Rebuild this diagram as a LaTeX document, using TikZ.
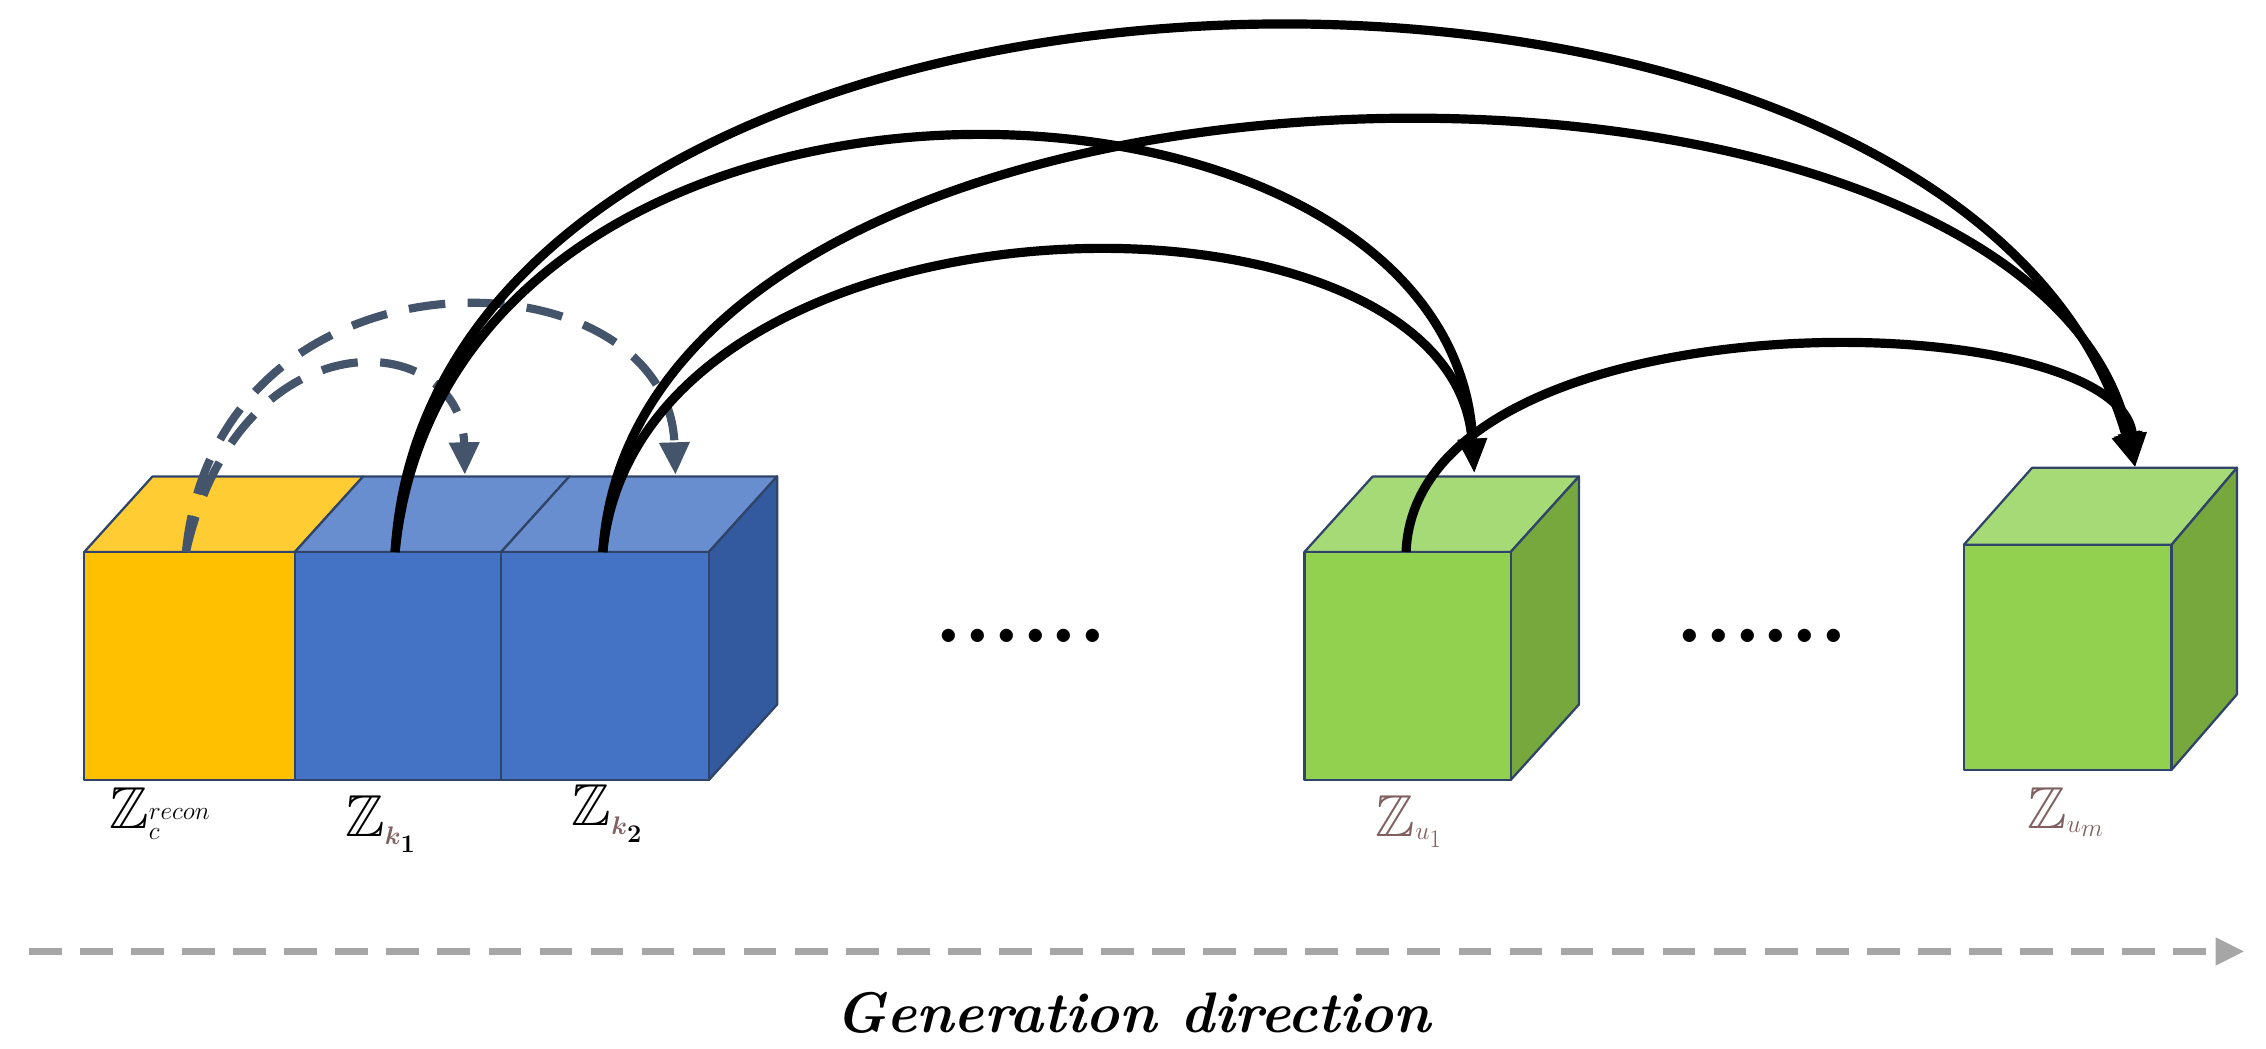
\documentclass[tikz,border=0pt]{standalone}
\usepackage{amsmath,amssymb}
\usetikzlibrary{arrows.meta}
\definecolor{yf}{HTML}{FFC000}\definecolor{yt}{HTML}{FFCD33}
\definecolor{bf}{HTML}{4472C4}\definecolor{bt}{HTML}{698ED0}\definecolor{bs}{HTML}{335A9E}
\definecolor{gf}{HTML}{92D050}\definecolor{gt}{HTML}{A6DA76}\definecolor{gs}{HTML}{76A83E}
\definecolor{edge}{HTML}{2F4468}\definecolor{dsh}{HTML}{44546A}\definecolor{sub}{HTML}{806060}
\begin{document}
\begin{tikzpicture}[x=0.5mm,y=-0.5mm,
  face/.style={draw=edge,line width=2.2pt,line join=round},
  solid arc/.style={line width=9pt,-{Triangle[length=34pt,width=26pt]}},
  dash arc/.style={line width=8pt,color=dsh,dash pattern=on 36pt off 22pt,-{Triangle[length=32pt,width=28pt]}},
  lab/.style={font=\fontsize{58}{62}\selectfont}]
\useasboundingbox (0,0) rectangle (1560,722);
% left block
\path[face,fill=yt] (58,380) -- (105,328) -- (250,328) -- (203,380) -- cycle;
\path[face,fill=bt] (203,380) -- (250,328) -- (392,328) -- (345,380) -- cycle;
\path[face,fill=bt] (345,380) -- (392,328) -- (535,328) -- (488,380) -- cycle;
\path[face,fill=bs] (488,380) -- (535,328) -- (535,485) -- (488,537) -- cycle;
\path[face,fill=yf] (58,380) rectangle (203,537);
\path[face,fill=bf] (203,380) rectangle (345,537);
\path[face,fill=bf] (345,380) rectangle (488,537);
% green 1
\path[face,fill=gt] (898,380) -- (945,328) -- (1087,328) -- (1040,380) -- cycle;
\path[face,fill=gs] (1040,380) -- (1087,328) -- (1087,485) -- (1040,537) -- cycle;
\path[face,fill=gf] (898,380) rectangle (1040,537);
% green 2
\path[face,fill=gt] (1352,375) -- (1399,322) -- (1540,322) -- (1495,375) -- cycle;
\path[face,fill=gs] (1495,375) -- (1540,322) -- (1540,478) -- (1495,530) -- cycle;
\path[face,fill=gf] (1352,375) rectangle (1495,530);
% connection points
\coordinate (c0) at (128,380);
\coordinate (k1) at (272,380);
\coordinate (k2) at (415,380);
\coordinate (k1in) at (320,327);
\coordinate (k2in) at (465,327);
\coordinate (u1) at (968,380);
\coordinate (u1in) at (1015,326);
\coordinate (umin) at (1470,322);
% dashed arcs
\draw[dash arc] (c0) .. controls (150,160) and (460,170) .. (k2in);
\draw[dash arc] (c0) .. controls (165,215) and (318,225) .. (k1in);
% solid arcs
\draw[solid arc] (k1) .. controls (300,-80) and (1350,-100) .. (umin);
\draw[solid arc] (k1) .. controls (310,0) and (1000,20) .. (u1in);
\draw[solid arc] (k2) .. controls (440,0) and (1400,-7) .. (umin);
\draw[solid arc] (k2) .. controls (440,120) and (1000,112) .. (u1in);
\draw[solid arc] (u1) .. controls (975,200) and (1460,207) .. (umin);
% dots
\node[font=\fontsize{90}{90}\bfseries\selectfont] (d1) at (703,438) {......};
\node[font=\fontsize{90}{90}\bfseries\selectfont] (d2) at (1213,438) {......};
% labels
\node[lab,anchor=north] (lc) at (110,540) {$\mathbb{Z}_c^{recon}$};
\node[lab,anchor=north] (l1) at (262,545) {$\mathbb{Z}_{\textcolor{sub}{\boldsymbol{k}}_{\mathbf 1}}$};
\node[lab,anchor=north] (l2) at (418,538) {$\mathbb{Z}_{\textcolor{sub}{\boldsymbol{k}}_{\mathbf 2}}$};
\node[lab,anchor=north,text=sub] (l3) at (970,545) {$\mathbb{Z}_{u_1}$};
\node[lab,anchor=north,text=sub] (l4) at (1422,540) {$\mathbb{Z}_{u_m}$};
% generation direction
\coordinate (gs) at (20,655);
\coordinate (ge) at (1545,655);
\draw[line width=6pt,color=gray!70,dash pattern=on 32pt off 18pt,-{Triangle[length=28pt,width=26pt]}] (gs) -- (ge);
\node[font=\fontsize{56}{60}\selectfont\bfseries\itshape] (gd) at (780,697) {Generation direction};
\end{tikzpicture}
\end{document}
